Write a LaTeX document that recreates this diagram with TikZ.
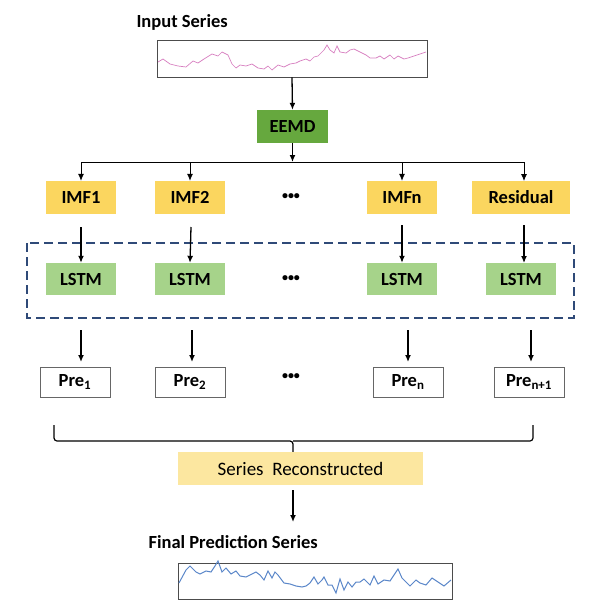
\documentclass[tikz,border=0pt]{standalone}
\usepackage{fontspec}
\setmainfont{Carlito}
\usetikzlibrary{arrows.meta}
\definecolor{imfy}{HTML}{FBD65F}
\definecolor{eemdg}{HTML}{66A83E}
\definecolor{lstmg}{HTML}{A6D38A}
\definecolor{recy}{HTML}{FCE7A0}
\definecolor{dashb}{HTML}{2F4A78}
\definecolor{pinkl}{HTML}{D77FC0}
\definecolor{bluel}{HTML}{5B87C9}
\tikzset{
  lab/.style={font=\fontsize{18.5}{20}\selectfont\bfseries},
  imf/.style={lab,fill=imfy,minimum width=70pt,minimum height=33pt,inner sep=0pt},
  lstm/.style={lab,fill=lstmg,minimum width=70pt,minimum height=32pt,inner sep=0pt},
  pre/.style={lab,draw=black!60,fill=white,minimum width=70pt,minimum height=30pt,inner sep=0pt},
  arr/.style={-{Latex[length=7pt,width=6pt]},line width=1.3pt},
  tarr/.style={-{Latex[length=7pt,width=6pt]},line width=0.8pt},
  dots/.style={font=\fontsize{12}{12}\selectfont\bfseries}
}
\begin{document}
\begin{tikzpicture}[x=1pt,y=-1pt]
\useasboundingbox (0,0) rectangle (600,605);
% input
\node[lab,anchor=west] (tin) at (133,22) {Input Series};
\node[draw=black!70,line width=0.8pt,minimum width=270pt,minimum height=37pt,inner sep=0pt] (in) at (292,58.5) {};
\draw[pinkl,line width=0.7pt] plot coordinates {(158,62)(163,59)(170,64)(178,66)(186,67)(193,61)(198,63)(204,59)(212,54)(218,56)(222,52)(228,55)(232,64)(236,68)(240,65)(246,66)(252,64)(258,68)(264,69)(268,66)(272,70)(278,65)(284,67)(290,64)(296,63)(300,61)(306,59)(310,61)(314,57)(318,56)(324,50)(327,45)(330,50)(334,53)(337,46)(340,52)(346,53)(350,50)(354,49)(358,51)(362,53)(366,55)(370,58)(376,58)(380,56)(384,59)(390,55)(394,59)(398,56)(404,59)(408,58)(414,56)(420,54)(426,52)};
\node[lab,fill=eemdg,minimum width=71pt,minimum height=33pt,inner sep=0pt] (eemd) at (292.5,126.5) {EEMD};
\draw[arr] (in.south) -- (eemd.north);
% IMFs
\node[imf] (i1) at (81,197.5) {IMF1};
\node[imf] (i2) at (190,197.5) {IMF2};
\node[dots] (d1) at (291,197) {•••};
\node[imf] (i3) at (402,197.5) {IMFn};
\node[imf,minimum width=98pt] (i4) at (521,197.5) {Residual};
\coordinate (br) at (292.5,162);
\draw[arr] (eemd.south) -- (br);
\draw[line width=0.7pt] (81,162) -- (524,162);
\draw[tarr] (81,162) -- (i1.north);
\draw[tarr] (190,162) -- (i2.north);
\draw[tarr] (402,162) -- (i3.north);
\draw[tarr] (524,162) -- (524,181);
% LSTMs
\draw[dashb,dashed,dash pattern=on 9pt off 5pt,line width=1.2pt] (27,243) rectangle (574,318);
\node[lstm] (l1) at (81,279) {LSTM};
\node[lstm] (l2) at (190,279) {LSTM};
\node[dots] (d2) at (291,279) {•••};
\node[lstm] (l3) at (402,279) {LSTM};
\node[lstm] (l4) at (521,279) {LSTM};
\draw[arr] (81,227) -- (l1.north);
\draw[arr] (191,227) -- (l2.north);
\draw[arr] (402,225) -- (l3.north);
\draw[arr] (524,225) -- (524,263);
% Pre
\node[pre] (p1) at (75,382) {Pre\textsubscript{1}};
\node[pre] (p2) at (190,382) {Pre\textsubscript{2}};
\node[dots] (d3) at (291,377) {•••};
\node[pre] (p3) at (408,382) {Pre\textsubscript{n}};
\node[pre] (p4) at (529,382) {Pre\textsubscript{n+1}};
\draw[arr] (81,330) -- (81,362);
\draw[arr] (192,330) -- (192,362);
\draw[arr] (408,330) -- (408,362);
\draw[arr] (531,330) -- (531,362);
% brace
\draw[line width=1.2pt,rounded corners=3pt] (54,425) -- (54,441) -- (293,441) -- (293,457);
\draw[line width=1.2pt,rounded corners=3pt] (293,441) -- (533,441) -- (533,425);
\node[fill=recy,minimum width=245pt,minimum height=33pt,inner sep=0pt,font=\fontsize{19}{21}\selectfont] (rec) at (300.5,468.5) {Series\ \ Reconstructed};
\node[lab,anchor=west] (tout) at (145,542) {Final Prediction Series};
\draw[arr] (293,490) -- (293,522);
\node[draw=black!70,line width=0.8pt,minimum width=274pt,minimum height=36pt,inner sep=0pt] (out) at (315,581) {};
\draw[bluel,line width=1pt] plot coordinates {(179,583)(186,570)(190,566)(196,572)(200,574)(206,571)(211,572)(215,566)(218,561)(222,572)(226,568)(231,574)(236,571)(240,576)(246,577)(252,574)(256,572)(260,575)(264,580)(268,571)(272,578)(275,572)(278,575)(284,583)(290,584)(296,586)(302,587)(306,586)(310,583)(314,577)(318,584)(322,580)(324,577)(328,585)(332,585)(336,593)(340,579)(344,590)(348,582)(352,587)(356,582)(360,582)(364,579)(370,585)(374,576)(378,584)(384,580)(390,581)(394,575)(398,569)(402,578)(406,582)(410,586)(416,580)(420,583)(426,585)(432,578)(438,582)(444,586)(451,580)};
\end{tikzpicture}
\end{document}
